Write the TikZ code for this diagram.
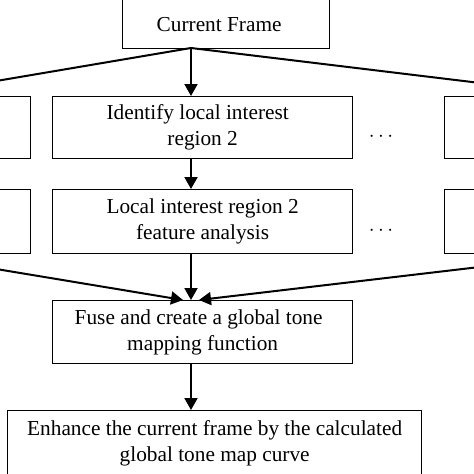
\documentclass[tikz,border=0pt]{standalone}
\usepackage{fontspec}
\setmainfont{Liberation Serif}
\usetikzlibrary{arrows.meta}
\begin{document}
\begin{tikzpicture}[x=1pt,y=1pt,
  box/.style={draw,line width=1.3pt,inner sep=0pt,align=center,
    font=\fontsize{21.3}{26}\selectfont,anchor=north west},
  conn/.style={line width=2pt,-{Triangle[length=12pt,width=13pt]}},
  dots/.style={font=\fontsize{21}{26}\selectfont}]
\useasboundingbox (0,0) rectangle (474,-474);
\clip (0,0) rectangle (474,-474);
\node[box,minimum width=207pt,minimum height=49pt] (top) at (122,1) {Current Frame\hspace*{14pt}};
\node[box,minimum width=300pt,minimum height=62pt] (r2) at (52,-96) {Identify local interest\hspace*{10pt}\\region 2};
\node[box,minimum width=300pt,minimum height=64pt] (f2) at (52,-189) {Local interest region 2\\feature analysis};
\node[box,minimum width=246pt,minimum height=62pt] (r1) at (-216,-96) {};
\node[box,minimum width=246pt,minimum height=64pt] (f1) at (-216,-189) {};
\node[box,minimum width=286pt,minimum height=62pt] (r3) at (444,-96) {};
\node[box,minimum width=286pt,minimum height=64pt] (f3) at (444,-189) {};
\node[box,minimum width=300pt,minimum height=63pt] (fuse) at (52,-300) {Fuse and create a global tone\hspace*{8pt}\\mapping function};
\node[box,minimum width=414pt,minimum height=66pt] (enh) at (7,-410) {Enhance the current frame by the calculated\\global tone map curve};
\node[dots] (d1) at (381,-137) {$\cdots$};
\node[dots] (d2) at (381,-231) {$\cdots$};
\coordinate (ts) at (191,-48);
\coordinate (fa) at (183,-300);
\coordinate (fb) at (199,-300);
\draw[conn] (ts) -- (r2.north -| ts);
\draw[line width=2pt] (ts) -- (r1.north);
\draw[line width=2pt] (ts) -- (r3.north);
\draw[conn] (r2.south -| ts) -- (f2.north -| ts);
\draw[conn] (f2.south -| ts) -- (fuse.north -| ts);
\draw[conn] (f1.south) -- (fa);
\draw[conn] (f3.south) -- (fb);
\draw[conn] (fuse.south -| ts) -- (enh.north -| ts);
\end{tikzpicture}
\end{document}
